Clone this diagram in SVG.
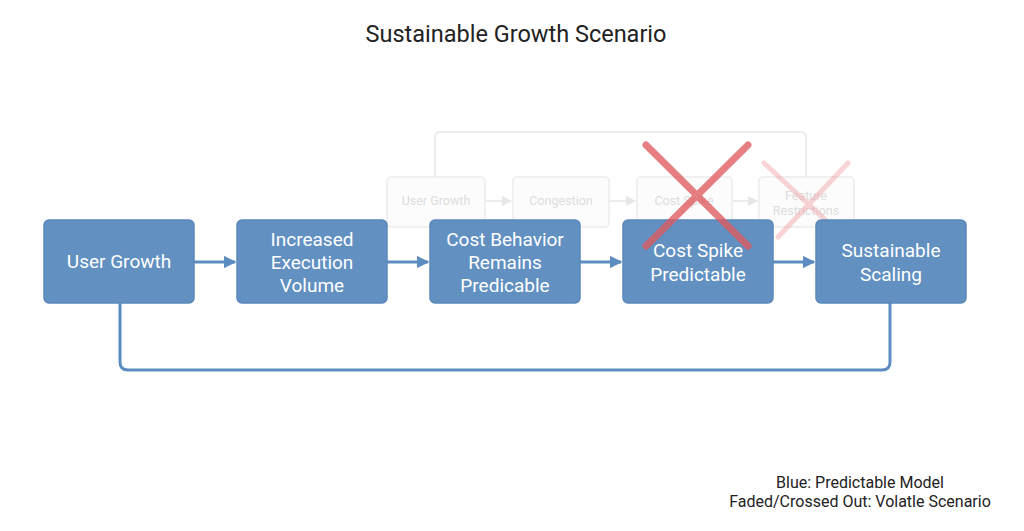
<svg xmlns="http://www.w3.org/2000/svg" width="1024" height="531" viewBox="0 0 1024 531">
<defs>
<style>
.box{fill:#6190c1;stroke:#5a88ba;stroke-width:1.5}
.lbl{fill:#ffffff;font-family:Roboto,"Liberation Sans",sans-serif;font-size:19px;text-anchor:middle}
.fbox{fill:#fcfcfc;stroke:#ececec;stroke-width:1.5}
.flbl{fill:#dcdcdc;font-family:Roboto,"Liberation Sans",sans-serif;font-size:12.5px;text-anchor:middle}
.conn{fill:none;stroke:#5d8cc0;stroke-width:3}
.fconn{fill:none;stroke:#ececec;stroke-width:2}
.txt{fill:#222222;font-family:Roboto,"Liberation Sans",sans-serif;text-anchor:middle}
</style>
<marker id="ah" viewBox="0 0 10 10" refX="9" refY="5" markerWidth="4.2" markerHeight="4.2" orient="auto" markerUnits="strokeWidth">
<path d="M0,0 L10,5 L0,10 z" fill="#5d8cc0"/>
</marker>
<marker id="fah" viewBox="0 0 10 10" refX="9" refY="5" markerWidth="5" markerHeight="5" orient="auto" markerUnits="strokeWidth">
<path d="M0,0 L10,5 L0,10 z" fill="#e6e6e6"/>
</marker>
</defs>
<rect width="1024" height="531" fill="#ffffff"/>
<text class="txt" x="516" y="42" font-size="23.5">Sustainable Growth Scenario</text>

<g id="faded-connectors">
<path class="fconn" d="M435,177 V137 Q435,132 440,132 H801 Q806,132 806,137 V177"/>
<line class="fconn" x1="486" y1="201" x2="511" y2="201" marker-end="url(#fah)"/>
<line class="fconn" x1="610" y1="201" x2="635" y2="201" marker-end="url(#fah)"/>
<line class="fconn" x1="733" y1="201" x2="757" y2="201" marker-end="url(#fah)"/>
</g>
<g id="faded-user-growth"><rect class="fbox" x="387" y="177" width="98" height="50" rx="4"/><text class="flbl" x="436" y="205">User Growth</text></g>
<g id="faded-congestion"><rect class="fbox" x="513" y="177" width="96" height="50" rx="4"/><text class="flbl" x="561" y="205">Congestion</text></g>
<g id="faded-cost-spike"><rect class="fbox" x="637" y="177" width="95" height="50" rx="4"/><text class="flbl" x="684" y="205">Cost Spike</text></g>
<g id="faded-feature"><rect class="fbox" x="759" y="177" width="95" height="50" rx="4"/><text class="flbl" x="806" y="200">Feature</text><text class="flbl" x="806" y="215">Restrictions</text></g>

<g id="faded-cross" stroke-linecap="round" fill="none" stroke="#f2a0a3" stroke-width="5" opacity="0.45">
<line x1="764" y1="163" x2="845" y2="238"/>
<line x1="848" y1="163" x2="778" y2="237"/>
</g>

<g id="connectors">
<line class="conn" x1="194" y1="262" x2="235" y2="262" marker-end="url(#ah)"/>
<line class="conn" x1="387" y1="262" x2="428" y2="262" marker-end="url(#ah)"/>
<line class="conn" x1="580" y1="262" x2="621" y2="262" marker-end="url(#ah)"/>
<line class="conn" x1="773" y1="262" x2="814" y2="262" marker-end="url(#ah)"/>
<path class="conn" d="M120,303 V362 Q120,370 128,370 H882 Q890,370 890,362 V303"/>
</g>

<g id="user-growth"><rect class="box" x="44" y="220" width="150" height="83" rx="5"/><text class="lbl" x="119" y="268">User Growth</text></g>
<g id="increased-execution"><rect class="box" x="237" y="220" width="150" height="83" rx="5"/><text class="lbl" x="312" y="246">Increased</text><text class="lbl" x="312" y="269">Execution</text><text class="lbl" x="312" y="292">Volume</text></g>
<g id="cost-behavior"><rect class="box" x="430" y="220" width="150" height="83" rx="5"/><text class="lbl" x="505" y="246">Cost Behavior</text><text class="lbl" x="505" y="269">Remains</text><text class="lbl" x="505" y="292">Predicable</text></g>
<g id="cost-spike"><rect class="box" x="623" y="220" width="150" height="83" rx="5"/><text class="lbl" x="698" y="257">Cost Spike</text><text class="lbl" x="698" y="281">Predictable</text></g>
<g id="sustainable-scaling"><rect class="box" x="816" y="220" width="150" height="83" rx="5"/><text class="lbl" x="891" y="257">Sustainable</text><text class="lbl" x="891" y="281">Scaling</text></g>

<g id="cross-mark" stroke-linecap="round" fill="none" stroke="#e05a5f" stroke-width="7" opacity="0.78">
<line x1="646" y1="145" x2="748" y2="246"/>
<line x1="748" y1="145" x2="646" y2="246"/>
</g>

<g id="legend">
<text class="txt" x="860" y="488" font-size="16">Blue: Predictable Model</text>
<text class="txt" x="860" y="507" font-size="16">Faded/Crossed Out: Volatle Scenario</text>
</g>
</svg>
